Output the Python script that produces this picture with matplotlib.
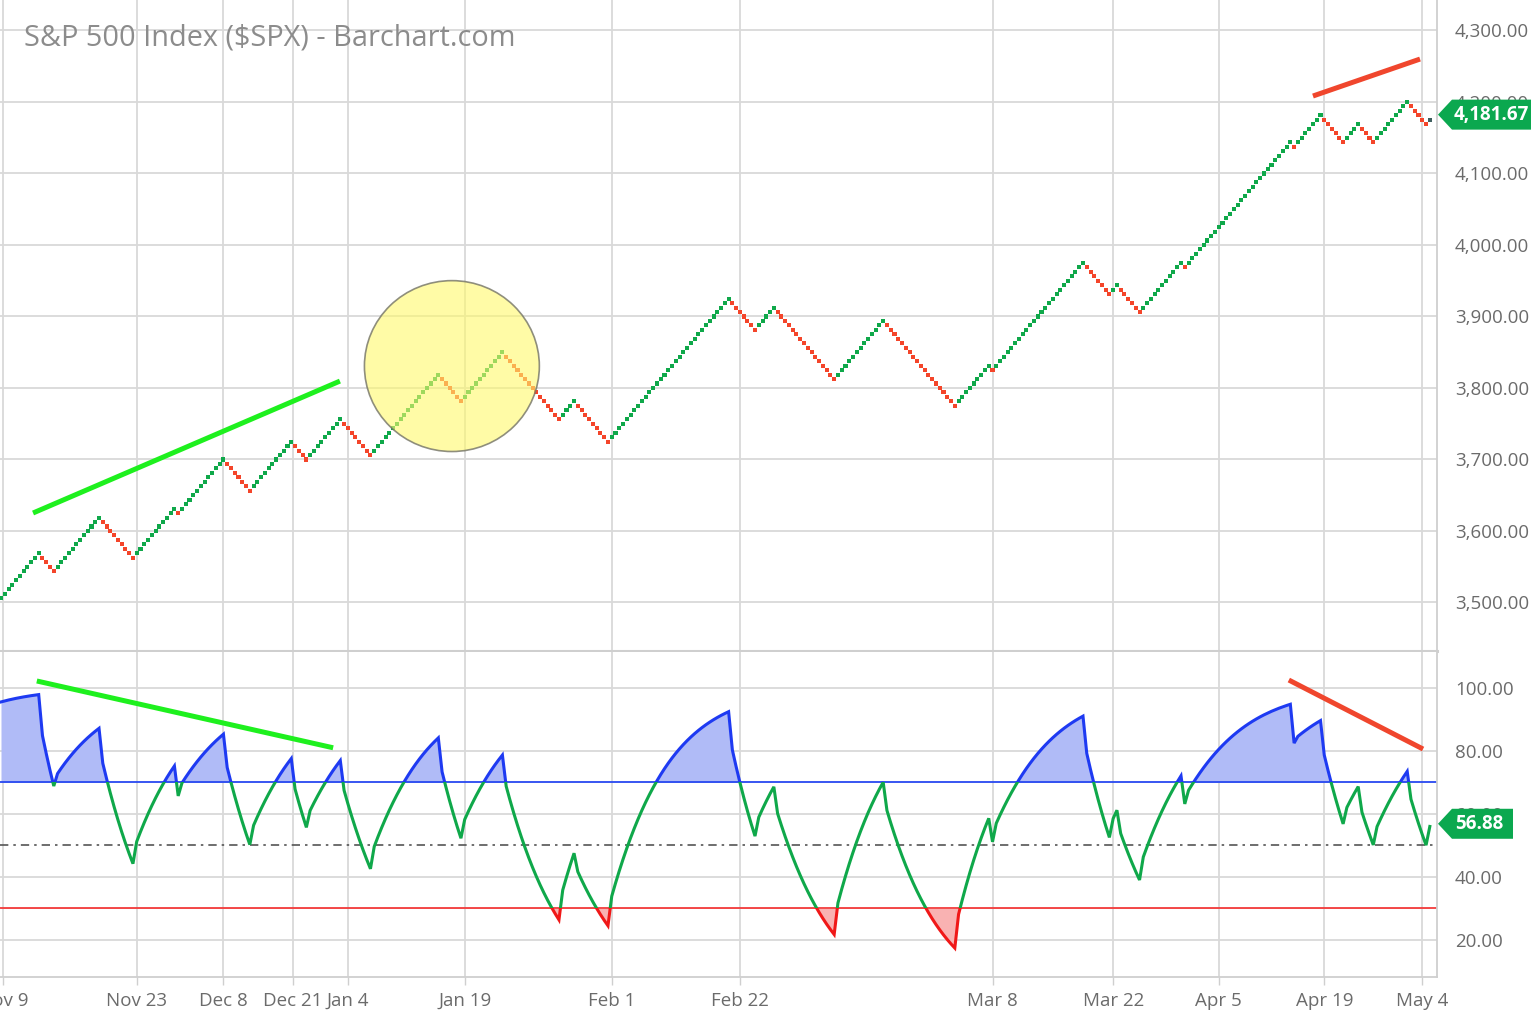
import numpy as np
import matplotlib
matplotlib.use("Agg")
import matplotlib.pyplot as plt
from matplotlib.patches import Ellipse, Polygon, Rectangle

plt.rcParams['font.family'] = ['Open Sans', 'DejaVu Sans']

# ------------------------------------------------------------------ data
brick_size = 6.25            # points per Renko brick
first_brick_price = 3505.6   # centre of the first visible brick
# signed Renko legs (number of bricks up (+) / down (-)) after the first brick
legs = [10, -4, 12, -9, 11, -1, 12, -7, 11, -4, 9, -8, 18, -6, 11, -15, 4, -9,
        32, -7, 5, -16, 13, -19, 9, -1, 24, -7, 2, -6, 11, -1, 28, -1, 7, -6,
        4, -4, 9, -5, 1]
last_price = 4181.67
last_rsi = 56.88
rsi_period = 14
rsi_seed_gain = 0.955        # average gain before first visible brick (in bricks)
rsi_seed_loss = 0.048        # average loss before first visible brick (in bricks)

date_labels = ['Nov 9', 'Nov 23', 'Dec 8', 'Dec 21', 'Jan 4', 'Jan 19', 'Feb 1',
               'Feb 22', 'Mar 8', 'Mar 22', 'Apr 5', 'Apr 19', 'May 4']
date_bricks = [0.5, 36, 59, 77.5, 92, 123, 162, 196, 263, 295, 323, 351, 377]
price_ticks = [3500, 3600, 3700, 3800, 3900, 4000, 4100, 4200, 4300]
rsi_ticks = [20, 40, 60, 80, 100]
rsi_overbought, rsi_mid, rsi_oversold = 70, 50, 30

trend_price_up_x, trend_price_up_y = [8.5, 89.9], [3624.5, 3809.0]
trend_price_top_x, trend_price_top_y = [348.0, 376.4], [4207.7, 4259.4]
trend_rsi_left_x, trend_rsi_left_y = [9.5, 88.1], [102.2, 81.0]
trend_rsi_right_x, trend_rsi_right_y = [341.6, 377.2], [102.5, 80.6]
highlight_center = (119.6, 3830.0)
highlight_width, highlight_height = 46.4, 239.0

# ------------------------------------------------------------------ renko + rsi
dirs = [1]
for n in legs:
    dirs += [int(np.sign(n))] * abs(n)
dirs = np.array(dirs)
levels = np.concatenate([[0], np.cumsum(dirs[1:])])
centers = first_brick_price + brick_size * levels
idx = np.arange(len(centers))
closes = centers + dirs * brick_size / 2.0
changes = np.diff(np.concatenate([[closes[0] - brick_size], closes]))

g = rsi_seed_gain * brick_size
l = rsi_seed_loss * brick_size
rsi = []
for ch in changes:
    g = (g * (rsi_period - 1) + max(ch, 0.0)) / rsi_period
    l = (l * (rsi_period - 1) + max(-ch, 0.0)) / rsi_period
    rsi.append(100.0 * g / (g + l))
rsi = np.array(rsi)

# ------------------------------------------------------------------ figure
W, H = 1536, 1022
fig = plt.figure(figsize=(W / 100, H / 100), dpi=100)
fig.patch.set_facecolor('white')

dx_px = 3.77
xlim = (-1 / dx_px, 1436 / dx_px)
ax = fig.add_axes([0, 1 - 651 / H, 1437 / W, 651 / H])
ax2 = fig.add_axes([0, 1 - 977 / H, 1437 / W, (977 - 652) / H])

GRID = '#d9d9d9'
GREEN = '#0fa84a'
RED = '#f4452a'
TXT = '#6b6b6b'

for a in (ax, ax2):
    a.set_xlim(*xlim)
    a.set_facecolor('white')
    a.set_xticks(date_bricks)
    a.grid(True, color=GRID, lw=1.3, zorder=0)
    a.set_axisbelow(True)
    a.yaxis.tick_right()
    a.tick_params(axis='y', length=0, pad=13, labelsize=13.5, labelcolor=TXT)
    for s in ('left', 'top'):
        a.spines[s].set_visible(False)
    for s in ('right', 'bottom'):
        a.spines[s].set_color('#cfcfcf')
        a.spines[s].set_linewidth(1.3)

ax.set_ylim(3431.5, 4342)
ax.set_yticks(price_ticks)
ax.set_yticklabels([f'{v:,.2f}' for v in price_ticks])
ax.tick_params(axis='x', length=0, labelbottom=False)
ax.spines['bottom'].set_linewidth(2.2)

ax2.set_ylim(8.25, 111.4)
ax2.set_yticks(rsi_ticks)
ax2.set_yticklabels([f'{v:.2f}' for v in rsi_ticks])
ax2.set_xticklabels(date_labels)
ax2.tick_params(axis='x', length=6, width=1, color='#cfcfcf', pad=5,
                labelsize=13.5, labelcolor=TXT)

# renko bricks
cols = np.where(dirs > 0, GREEN, RED).astype(object)
cols[-1] = '#3f5f5f'
ax.scatter(idx, centers, s=8.5, marker='s', c=list(cols), linewidths=0, zorder=3)

# highlight circle
ell = Ellipse(highlight_center, highlight_width, highlight_height,
              facecolor=(1.0, 0.976, 0.42, 0.6), edgecolor=(0.45, 0.45, 0.4, 0.8),
              lw=1.2, zorder=4)
ax.add_patch(ell)

ax.plot(trend_price_up_x, trend_price_up_y, color='#1ef01e', lw=3.6,
        solid_capstyle='butt', zorder=5)
ax.plot(trend_price_top_x, trend_price_top_y, color='#f0462d', lw=3.6,
        solid_capstyle='butt', zorder=5)

# RSI panel
BLUE = '#1e3af2'
ax2.axhline(rsi_overbought, color='#2848f0', lw=1.3, zorder=2)
ax2.axhline(rsi_oversold, color='#f23c3c', lw=1.3, zorder=2)
ax2.axhline(rsi_mid, color='#555555', lw=1.2, ls=(0, (5, 3, 1.5, 3)), zorder=2)

def clip_rect(lo, hi):
    return Rectangle((-1000, lo), 3000, hi - lo, transform=ax2.transData)

fb = ax2.fill_between(idx, rsi, rsi_overbought, color='#b0bbf7', lw=0, zorder=1)
fb.set_clip_path(clip_rect(rsi_overbought, 500))
fr = ax2.fill_between(idx, rsi, rsi_oversold, color='#f9b2b2', lw=0, zorder=1)
fr.set_clip_path(clip_rect(-500, rsi_oversold))

for lo, hi, c in [(rsi_overbought, 500, BLUE), (rsi_oversold, rsi_overbought, GREEN),
                  (-500, rsi_oversold, '#f01818')]:
    ln, = ax2.plot(idx, rsi, color=c, lw=2.2, zorder=3, solid_joinstyle='miter')
    ln.set_clip_path(clip_rect(lo, hi))

ax2.plot(trend_rsi_left_x, trend_rsi_left_y, color='#1ef01e', lw=3.6,
         solid_capstyle='butt', zorder=5)
ax2.plot(trend_rsi_right_x, trend_rsi_right_y, color='#f0462d', lw=3.6,
         solid_capstyle='butt', zorder=5)

# title
fig.text(24 / W, 1 - 38 / H, 'S&P 500 Index ($SPX) - Barchart.com', fontsize=20.8,
         color='#8c8c8c', ha='left', va='center')

# value tags
def tag(axis, value, label, x_right, x_text):
    fig.canvas.draw()
    yc = axis.transData.transform((0, value))[1]
    hh = 15
    verts = [(1438, yc), (1452, yc + hh), (x_right, yc + hh), (x_right, yc - hh),
             (1452, yc - hh)]
    verts = [(x / W, y / H) for x, y in verts]
    fig.add_artist(Polygon(verts, closed=True, transform=fig.transFigure,
                           facecolor='#0ba84f', edgecolor='none', zorder=10))
    fig.text(x_text / W, yc / H, label, fontsize=13.5, fontweight='bold', color='white',
             ha='center', va='center', zorder=11)

tag(ax, last_price, f'{last_price:,.2f}', 1531, 1491)
tag(ax2, last_rsi, f'{last_rsi:.2f}', 1513, 1479)

fig.savefig('out.png', dpi=100)
